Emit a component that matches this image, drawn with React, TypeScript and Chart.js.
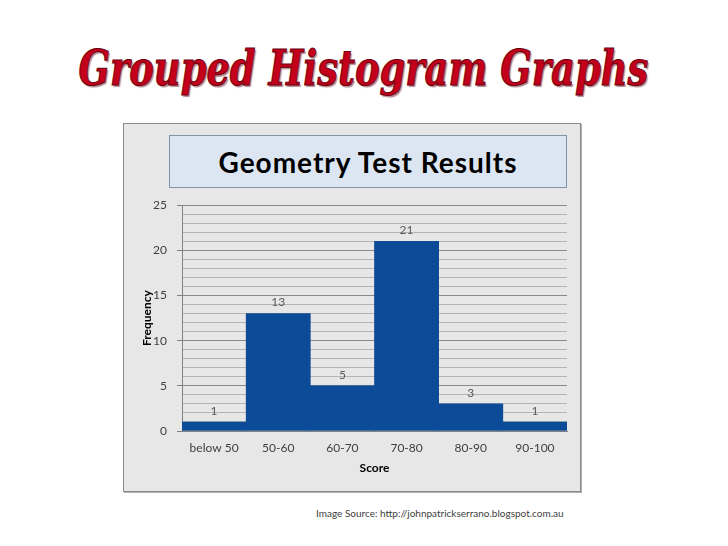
import React, { useEffect, useLayoutEffect, useRef } from "react";
import { Chart, registerables } from "chart.js";

Chart.register(...registerables);

const categories = ["below 50", "50-60", "60-70", "70-80", "80-90", "90-100"];
const frequencies = [1, 13, 5, 21, 3, 1];
const yMin = 0;
const yMax = 25;
const yStep = 1;
const yLabelEvery = 5;

const MAIN_TITLE = "Grouped Histogram Graphs";
const CHART_TITLE = "Geometry Test Results";
const SOURCE = "Image Source: http://johnpatrickserrano.blogspot.com.au";

const FONT = "Lato, 'Open Sans', sans-serif";

const dataLabels = {
  id: "dataLabels",
  afterDatasetsDraw(chart: any) {
    const ctx = chart.ctx;
    const meta = chart.getDatasetMeta(0);
    ctx.save();
    ctx.font = `12px ${FONT}`;
    ctx.fillStyle = "#595959";
    ctx.textAlign = "center";
    ctx.textBaseline = "bottom";
    meta.data.forEach((bar: any, i: number) => {
      ctx.fillText(String(frequencies[i]), bar.x, bar.y - 5);
    });
    ctx.restore();
  },
};

export default function App() {
  const canvasRef = useRef<HTMLCanvasElement | null>(null);
  const titleRef = useRef<HTMLSpanElement | null>(null);

  useLayoutEffect(() => {
    const el = titleRef.current;
    if (el) {
      const w = el.offsetWidth;
      if (w > 0) el.style.transform = `scaleX(${570 / w})`;
    }
  }, []);

  useEffect(() => {
    if (!canvasRef.current) return;
    const chart = new Chart(canvasRef.current, {
      type: "bar",
      data: {
        labels: categories,
        datasets: [
          {
            data: frequencies,
            backgroundColor: "#0b4b97",
            borderWidth: 0,
            categoryPercentage: 1,
            barPercentage: 1,
          },
        ],
      },
      plugins: [dataLabels],
      options: {
        animation: false,
        responsive: false,
        devicePixelRatio: 1,
        layout: { padding: { top: 3, right: 12, bottom: 0, left: 0 } },
        plugins: {
          legend: { display: false },
          tooltip: { enabled: false },
          title: { display: false },
        },
        scales: {
          x: {
            grid: { display: false },
            border: { display: true, color: "#808080" },
            ticks: {
              font: { family: FONT, size: 12 },
              color: "#404040",
              padding: 2,
              maxRotation: 0,
            },
            title: {
              display: true,
              text: "Score",
              font: { family: FONT, size: 12, weight: "bold" },
              color: "#000",
              padding: { top: 12, bottom: 12 },
            },
            afterFit: (s: any) => {
              s.height = 56;
            },
          },
          y: {
            min: yMin,
            max: yMax,
            ticks: {
              stepSize: yStep,
              autoSkip: false,
              font: { family: FONT, size: 12 },
              color: "#404040",
              padding: 10,
              callback: (v: any) => (Number(v) % yLabelEvery === 0 ? String(v) : ""),
            },
            grid: {
              color: (c: any) => (c.tick && c.tick.value % yLabelEvery === 0 ? "#8a8a8a" : "#b4b4b4"),
              tickColor: (c: any) => (c.tick && c.tick.value % yLabelEvery === 0 ? "#808080" : "rgba(0,0,0,0)"),
              tickLength: 5,
              lineWidth: 1,
            },
            border: { display: true, color: "#808080" },
            title: {
              display: true,
              text: "Frequency",
              font: { family: FONT, size: 12, weight: "bold" },
              color: "#000",
              padding: { top: 16, bottom: 16 },
            },
            afterFit: (s: any) => {
              s.width = 58;
            },
          },
        },
      },
    } as any);
    return () => chart.destroy();
  }, []);

  return (
    <div
      style={{
        position: "fixed",
        left: 0,
        top: 0,
        width: 728,
        height: 546,
        background: "#ffffff",
        overflow: "hidden",
      }}
    >
      <div
        style={{
          position: "absolute",
          left: -8,
          top: 38,
          width: 728,
          height: 60,
          textAlign: "center",
          lineHeight: "60px",
        }}
      >
        <span
          ref={titleRef}
          style={{
            display: "inline-block",
            fontFamily: "'DejaVu Serif', serif",
            fontStyle: "italic",
            fontWeight: "bold",
            fontSize: 48,
            color: "#c4001a",
            WebkitTextStroke: "1px #6a0010",
            textShadow: "2px 2px 1px rgba(90,0,10,0.45)",
            transformOrigin: "center center",
            whiteSpace: "nowrap",
          }}
        >
          {MAIN_TITLE}
        </span>
      </div>

      <div
        style={{
          position: "absolute",
          left: 123,
          top: 123,
          width: 458,
          height: 369,
          boxSizing: "border-box",
          background: "#e7e7e7",
          border: "1px solid #8a8a8a",
          boxShadow: "1px 1px 0 #b0b0b0",
        }}
      />
      <div
        style={{
          position: "absolute",
          left: 169,
          top: 135,
          width: 398,
          height: 53,
          boxSizing: "border-box",
          background: "#dce6f2",
          border: "1px solid #8093ab",
          display: "flex",
          alignItems: "center",
          justifyContent: "center",
          fontFamily: FONT,
          fontWeight: "bold",
          fontSize: 28,
          letterSpacing: 1,
          color: "#000",
        }}
      >
        {CHART_TITLE}
      </div>

      <canvas
        ref={canvasRef}
        width={455}
        height={299}
        style={{ position: "absolute", left: 124, top: 188, width: 455, height: 299 }}
      />

      <div
        style={{
          position: "absolute",
          left: 316,
          top: 506,
          fontFamily: FONT,
          fontSize: 10,
          color: "#404040",
          whiteSpace: "nowrap",
          lineHeight: "14px",
        }}
      >
        {SOURCE}
      </div>
    </div>
  );
}
